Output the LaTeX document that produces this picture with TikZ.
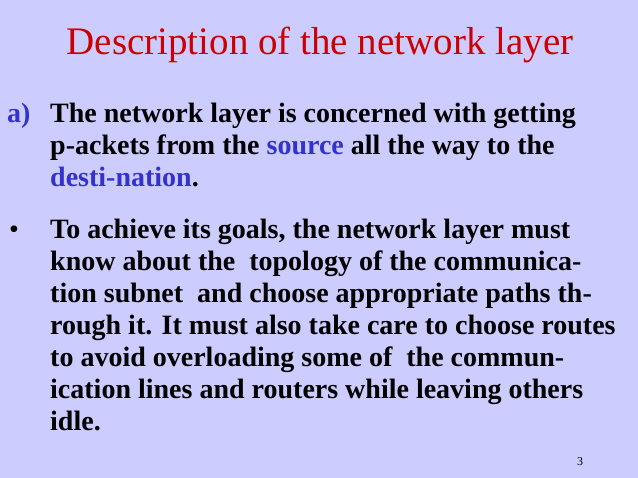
\documentclass[tikz,border=0pt]{standalone}
\usepackage{fontspec}
\setmainfont{Liberation Serif}
\definecolor{bg}{RGB}{204,204,255}
\definecolor{ttl}{RGB}{204,0,0}
\definecolor{hl}{RGB}{51,51,204}
\begin{document}
\begin{tikzpicture}[x=1pt,y=1pt,
  ln/.style={anchor=base west,inner sep=0pt,font=\bfseries\fontsize{28}{32}\selectfont}]
\fill[bg] (0,0) rectangle (638,478);
\useasboundingbox (0,0) rectangle (638,478);
\node[anchor=base,inner sep=0pt,text=ttl,font=\fontsize{39}{44}\selectfont] (title) at (320,423) {Description of the network layer};
\node[ln,text=hl] (a) at (7,355) {a)};
\node[ln] (l1) at (50,355) {The network layer is concerned with getting};
\node[ln] (l2) at (50,323) {p-ackets from the \textcolor{hl}{source} all the way to the};
\node[ln] (l3) at (50,291) {\textcolor{hl}{desti-nation}.};
\node[ln,font=\fontsize{28}{32}\selectfont] (b) at (9,239) {•};
\node[ln] (m1) at (50,239) {To achieve its goals, the network layer must};
\node[ln] (m2) at (50,207) {know about the\ \ topology of the communica-};
\node[ln] (m3) at (50,175) {tion subnet\ \ and choose appropriate paths th-};
\node[ln] (m4) at (50,143) {rough it. It must also take care to choose routes};
\node[ln] (m5) at (50,111) {to avoid overloading some of\ \ the commun-};
\node[ln] (m6) at (50,79) {ication lines and routers while leaving others};
\node[ln] (m7) at (50,47) {idle.};
\node[anchor=base,inner sep=0pt,font=\fontsize{12}{14}\selectfont] (pg) at (580,12) {3};
\end{tikzpicture}
\end{document}
